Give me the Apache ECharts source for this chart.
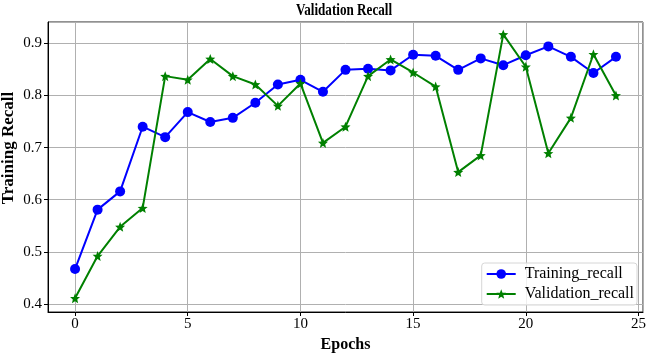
<!DOCTYPE html>
<html>
<head>
<meta charset="utf-8">
<script src="https://cdn.jsdelivr.net/npm/echarts@6/dist/echarts.min.js"></script>
<style>
  html, body { margin: 0; padding: 0; background: #fff; }
  #chart { width: 648px; height: 353px; }
</style>
</head>
<body>
<div id="chart"></div>
<script>
// epochs 0..24
const epochs = [0, 1, 2, 3, 4, 5, 6, 7, 8, 9, 10, 11, 12, 13, 14, 15, 16, 17, 18, 19, 20, 21, 22, 23, 24];
const trainingRecall = [0.467, 0.581, 0.616, 0.740, 0.720, 0.768, 0.749, 0.757, 0.786, 0.821, 0.830, 0.807,
    0.849, 0.851, 0.848, 0.878, 0.876, 0.849, 0.871, 0.858, 0.877, 0.894, 0.874, 0.843, 0.874];
const validationRecall = [0.411, 0.492, 0.548, 0.584, 0.837, 0.830, 0.870, 0.837, 0.821, 0.780, 0.823, 0.709,
    0.740, 0.837, 0.869, 0.844, 0.817, 0.653, 0.685, 0.917, 0.855, 0.689, 0.757, 0.879, 0.800];
const seriesNames = ['Training_recall', 'Validation_recall'];

const font = 'Liberation Serif';
const chart = echarts.init(document.getElementById('chart'));

function pairs(ys) {
    return epochs.map((x, i) => [x, ys[i]]);
}

// hide the labels that fall on the axis ends (not multiples of the step)
function tickFmt(step, digits) {
    return function (v) {
        const k = Math.round(v / step);
        if (Math.abs(v - k * step) > 1e-6) return '';
        return digits ? v.toFixed(digits) : String(Math.round(v));
    };
}

const option = {
    animation: false,
    graphic: [
        // title is a narrow bold serif in the reference
        {
            type: 'text',
            x: 344,
            y: 11,
            scaleX: 0.82,
            style: {
                text: 'Validation Recall',
                fontFamily: font,
                fontSize: 16,
                fontWeight: 'bold',
                fill: '#000',
                align: 'center',
                verticalAlign: 'middle'
            }
        },
        // y axis title sits a bit above the plot centre in the reference
        {
            type: 'text',
            x: 9,
            y: 148,
            rotation: Math.PI / 2,
            style: {
                text: 'Training Recall',
                fontFamily: font,
                fontSize: 17,
                fontWeight: 'bold',
                fill: '#000',
                align: 'center',
                verticalAlign: 'middle'
            }
        }
    ],
    legend: {
        data: seriesNames,
        orient: 'vertical',
        right: 11,
        top: 263,
        padding: [3, 3, 3, 4],
        itemGap: 4,
        itemWidth: 29,
        itemHeight: 12,
        borderColor: '#d6d6d6',
        borderWidth: 1,
        borderRadius: 3,
        backgroundColor: 'rgba(255,255,255,0.8)',
        textStyle: { fontFamily: font, fontSize: 16, color: '#000', padding: [0, 0, 0, 4] }
    },
    grid: {
        left: 48,
        right: 5,
        top: 22,
        bottom: 41,
        outerBoundsMode: 'none',
        containLabel: false,
        show: true,
        borderColor: '#222',
        borderWidth: 1
    },
    xAxis: {
        type: 'value',
        min: -1.2,
        max: 25.2,
        splitNumber: 5,
        name: 'Epochs',
        nameLocation: 'middle',
        nameGap: 22,
        nameTextStyle: { fontFamily: font, fontSize: 16, fontWeight: 'bold', color: '#000' },
        axisLine: { onZero: false, lineStyle: { color: '#000', width: 1 } },
        axisTick: { show: true, length: 4, lineStyle: { color: '#000' } },
        axisLabel: {
            fontFamily: font, fontSize: 15, color: '#000', margin: 5,
            showMinLabel: false, showMaxLabel: false,
            formatter: tickFmt(5, 0)
        },
        splitLine: { show: true, lineStyle: { color: '#b0b0b0', width: 1 } }
    },
    yAxis: {
        type: 'value',
        min: 0.3847,
        max: 0.9408,
        splitNumber: 5,
        axisLine: { show: true, onZero: false, lineStyle: { color: '#000', width: 1 } },
        axisTick: { show: true, length: 4, lineStyle: { color: '#000' } },
        axisLabel: {
            fontFamily: font, fontSize: 15, color: '#000', margin: 6,
            showMinLabel: false, showMaxLabel: false,
            formatter: tickFmt(0.1, 1)
        },
        splitLine: { show: true, lineStyle: { color: '#b0b0b0', width: 1 } }
    },
    series: [
        {
            name: seriesNames[0],
            type: 'line',
            data: pairs(trainingRecall),
            symbol: 'circle',
            symbolSize: 10,
            color: '#0000ff',
            lineStyle: { width: 2, color: '#0000ff' },
            itemStyle: { color: '#0000ff' },
            z: 2
        },
        {
            name: seriesNames[1],
            type: 'line',
            data: pairs(validationRecall),
            symbol: 'path://M0,-10 L2.6,-3.4 L9.51,-3.09 L4.2,1.4 L5.88,8.09 L0,4.4 L-5.88,8.09 L-4.2,1.4 L-9.51,-3.09 L-2.6,-3.4 Z',
            symbolSize: 10,
            color: '#008000',
            lineStyle: { width: 2, color: '#008000' },
            itemStyle: { color: '#008000' },
            z: 3
        }
    ]
};

chart.setOption(option);
</script>
</body>
</html>
